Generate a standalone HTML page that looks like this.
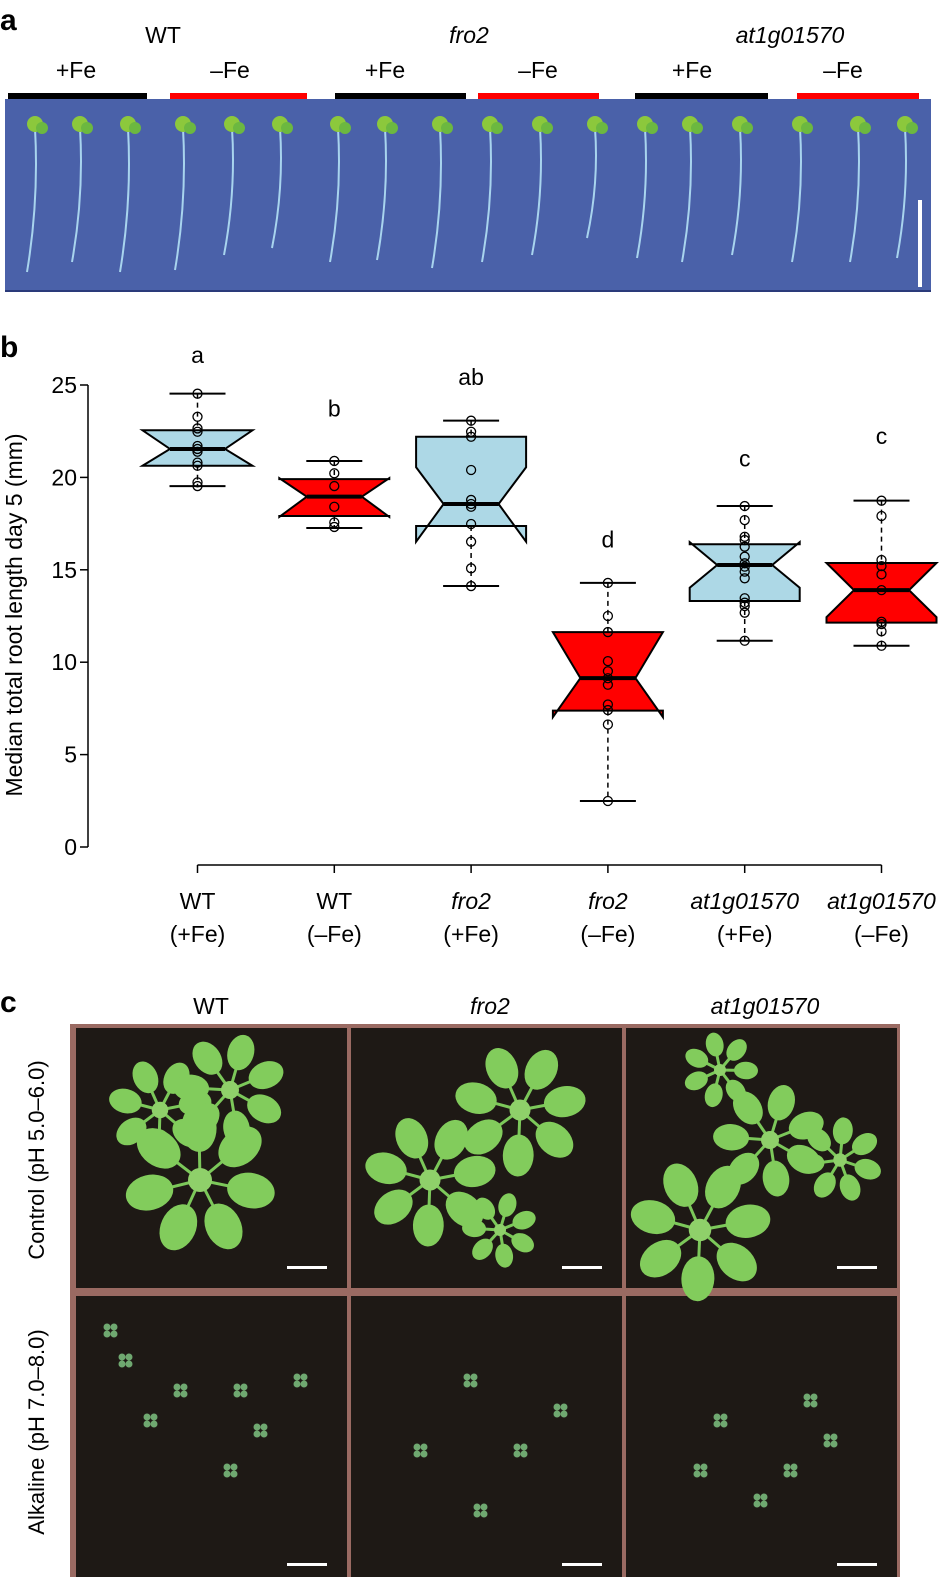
<!DOCTYPE html>
<html><head><meta charset="utf-8"><style>
html,body{margin:0;padding:0;background:#fff;}
svg{display:block;font-family:"Liberation Sans",Arial,sans-serif;}
</style></head><body>
<svg id="fig" width="946" height="1577" viewBox="0 0 946 1577" xmlns="http://www.w3.org/2000/svg">
<!-- Panel a -->
<text x="0" y="30" font-size="30" font-weight="bold">a</text>
<g font-size="23" text-anchor="middle">
<text x="163" y="43">WT</text>
<text x="469" y="43" font-style="italic">fro2</text>
<text x="790" y="43" font-style="italic">at1g01570</text>
<text x="76" y="78">+Fe</text><text x="230" y="78">–Fe</text>
<text x="385" y="78">+Fe</text><text x="538" y="78">–Fe</text>
<text x="692" y="78">+Fe</text><text x="843" y="78">–Fe</text>
</g>
<g>
<rect x="8" y="93" width="139" height="6" fill="#000"/><rect x="170" y="93" width="137" height="6" fill="#f00"/>
<rect x="335" y="93" width="131" height="6" fill="#000"/><rect x="478" y="93" width="121" height="6" fill="#f00"/>
<rect x="635" y="93" width="133" height="6" fill="#000"/><rect x="797" y="93" width="122" height="6" fill="#f00"/>
</g>
<rect x="5" y="99" width="926" height="193" fill="#4a61a9"/>
<rect x="5" y="290" width="926" height="2" fill="#2a3a7a"/>
<g id="seedlings"></g>
<rect x="918" y="200" width="4" height="87" fill="#fff"/>

<!-- Panel b -->
<text x="0" y="357" font-size="30" font-weight="bold">b</text>
<text transform="translate(22,615) rotate(-90)" font-size="23" text-anchor="middle">Median total root length day 5 (mm)</text>
<g id="chart"></g>

<!-- Panel c -->
<text x="0" y="1012" font-size="30" font-weight="bold">c</text>
<g font-size="23" text-anchor="middle">
<text x="211" y="1014">WT</text>
<text x="490" y="1014" font-style="italic">fro2</text>
<text x="765" y="1014" font-style="italic">at1g01570</text>
</g>
<text transform="translate(44,1160) rotate(-90)" font-size="22" text-anchor="middle">Control (pH 5.0–6.0)</text>
<text transform="translate(44,1432) rotate(-90)" font-size="22" text-anchor="middle">Alkaline (pH 7.0–8.0)</text>
<g id="pots"></g>
</svg>
<script>
const NS="http://www.w3.org/2000/svg";
function mk(tag,attrs,parent){const e=document.createElementNS(NS,tag);for(const k in attrs)e.setAttribute(k,attrs[k]);parent.appendChild(e);return e;}

// ---- chart data ----
const categories=["WT|(+Fe)","WT|(–Fe)","fro2|(+Fe)","fro2|(–Fe)","at1g01570|(+Fe)","at1g01570|(–Fe)"];
const italicCat=[false,false,true,true,true,true];
const fills=["#add8e6","#ff0000","#add8e6","#ff0000","#add8e6","#ff0000"];
const whiskerLo=[19.53,17.26,14.12,2.49,11.16,10.89];
const q1=[20.63,17.91,17.37,7.38,13.31,12.14];
const medians=[21.54,18.96,18.56,9.14,15.26,13.9];
const q3=[22.55,19.91,22.2,11.63,16.38,15.37];
const whiskerHi=[24.53,20.89,23.07,14.29,18.45,18.74];
const notchLo=[20.63,17.86,16.52,7.03,14.03,12.44];
const notchHi=[22.55,19.96,20.55,11.63,16.5,15.37];
const sigLetters=["a","b","ab","d","c","c"];
const letterY=[26.2,23.3,25.0,16.2,20.6,21.8];
const points=[
 [24.53,23.28,22.65,22.47,21.7,21.54,21.39,20.8,20.63,19.73,19.53],
 [20.89,20.22,19.53,18.41,17.56,17.32],
 [23.07,22.47,22.2,20.4,18.78,18.56,18.41,17.48,16.52,15.08,14.12],
 [14.29,12.5,11.63,10.06,9.51,9.13,8.78,7.71,7.41,6.63,2.49],
 [18.45,17.69,16.79,16.61,16.25,15.71,15.35,15.17,14.9,14.54,13.46,13.22,13.04,12.68,11.16],
 [18.74,17.91,15.53,15.2,14.75,13.9,12.19,12.06,11.67,10.89]
];
const yTicks=[0,5,10,15,20,25];

const Y0=847,PXU=18.48;
function ys(v){return Y0-v*PXU;}
function xs(i){return 197.5+i*136.8;}
const g=document.getElementById('chart');
let ax=mk('line',{x1:88,y1:ys(0),x2:88,y2:ys(25),stroke:'#000','stroke-width':1.5},g);


yTicks.forEach(t=>{
  mk('line',{x1:80,y1:ys(t),x2:88,y2:ys(t),stroke:'#000','stroke-width':1.5},g);
  const tx=mk('text',{x:77,y:ys(t)+8,'font-size':23,'text-anchor':'end'},g);tx.textContent=t;
  
  
});
let xa=mk('line',{x1:xs(0),y1:865,x2:xs(5),y2:865,stroke:'#000','stroke-width':1.5},g);


categories.forEach((c,i)=>{
  const x=xs(i);
  mk('line',{x1:x,y1:865,x2:x,y2:873,stroke:'#000','stroke-width':1.5},g);
  const [a,b]=c.split('|');
  const t1=mk('text',{x:x,y:909,'font-size':23,'text-anchor':'middle','font-style':italicCat[i]?'italic':'normal'},g);t1.textContent=a;
  
  
  const t2=mk('text',{x:x,y:942,'font-size':23,'text-anchor':'middle'},g);t2.textContent=b;
  
  
});
categories.forEach((c,i)=>{
  const x=xs(i),hw=55,nw=27.5,ww=28;
  const grp=mk('g',{},g);
  
  
  mk('line',{x1:x,y1:ys(whiskerHi[i]),x2:x,y2:ys(q3[i]),stroke:'#000','stroke-width':1.5,'stroke-dasharray':'5,4'},grp);
  mk('line',{x1:x,y1:ys(q1[i]),x2:x,y2:ys(whiskerLo[i]),stroke:'#000','stroke-width':1.5,'stroke-dasharray':'5,4'},grp);
  mk('line',{x1:x-ww,y1:ys(whiskerHi[i]),x2:x+ww,y2:ys(whiskerHi[i]),stroke:'#000','stroke-width':2},grp);
  mk('line',{x1:x-ww,y1:ys(whiskerLo[i]),x2:x+ww,y2:ys(whiskerLo[i]),stroke:'#000','stroke-width':2},grp);
  const xl=x-hw,xr=x+hw;
  const pts=[[xl,q1[i]],[xl,notchLo[i]],[x-nw,medians[i]],[xl,notchHi[i]],[xl,q3[i]],[xr,q3[i]],[xr,notchHi[i]],[x+nw,medians[i]],[xr,notchLo[i]],[xr,q1[i]]];
  mk('polygon',{points:pts.map(p=>p[0]+','+ys(p[1])).join(' '),fill:fills[i],stroke:'#000','stroke-width':2,'stroke-linejoin':'miter'},grp);
  mk('line',{x1:x-nw,y1:ys(medians[i]),x2:x+nw,y2:ys(medians[i]),stroke:'#000','stroke-width':4},grp);
  points[i].forEach(v=>{
    const cc=mk('circle',{cx:x,cy:ys(v),r:4.5,fill:'none',stroke:'#000','stroke-width':1.3},grp);
    
    
  });
  const lt=mk('text',{x:x,y:ys(letterY[i]),'font-size':23,'text-anchor':'middle'},g);lt.textContent=sigLetters[i];
  
  
});

// ---- seedlings (decorative) ----
const sg=document.getElementById('seedlings');
const sx=[35,80,128,183,232,280,338,385,440,490,540,595,645,690,740,800,858,905];
const sl=[272,262,272,270,255,248,262,260,268,262,255,238,258,262,255,262,262,258];
sx.forEach((x,i)=>{
  mk('path',{d:`M${x},128 Q${x+4},${(128+sl[i])/2} ${x-8},${sl[i]}`,stroke:'#a8d4ee','stroke-width':2,fill:'none'},sg);
  mk('ellipse',{cx:x,cy:124,rx:8,ry:8,fill:'#8cc83c'},sg);
  mk('ellipse',{cx:x+7,cy:128,rx:6,ry:6,fill:'#6cb840'},sg);
});

// ---- plant photos (decorative) ----
const pg=document.getElementById('pots');
mk('rect',{x:70,y:1024,width:830,height:553,fill:'#9a6a62'},pg);
const cols=[[76,347],[351,622],[626,897]];
const rows=[[1028,1288],[1296,1577]];
rows.forEach((r,ri)=>cols.forEach((c,ci)=>{
  mk('rect',{x:c[0],y:r[0],width:c[1]-c[0],height:r[1]-r[0],fill:'#1e1915'},pg);
  mk('rect',{x:c[1]-60,y:r[1]-(ri?14:22),width:40,height:3,fill:'#fff'},pg);
}));
const ros=[[200,1180,80],[160,1110,55],[230,1090,60],[430,1180,70],[520,1110,70],[500,1230,40],[700,1230,75],[770,1140,60],[840,1160,45],[720,1070,40]];
ros.forEach(([x,y,r])=>{
  for(let k=0;k<7;k++){
    const a=k*2*Math.PI/7+x*0.01;
    const lx=x+Math.cos(a)*r*0.65,ly=y+Math.sin(a)*r*0.65;
    mk('line',{x1:x,y1:y,x2:lx,y2:ly,stroke:'#7cc85a','stroke-width':3},pg);
    mk('ellipse',{cx:lx,cy:ly,rx:r*0.3,ry:r*0.22,transform:`rotate(${a*180/Math.PI} ${lx} ${ly})`,fill:'#82cc5c'},pg);
  }
  mk('circle',{cx:x,cy:y,r:r*0.15,fill:'#8fd06a'},pg);
});
const small=[[110,1330],[125,1360],[180,1390],[240,1390],[300,1380],[150,1420],[230,1470],[260,1430],[420,1450],[470,1380],[520,1450],[560,1410],[480,1510],[720,1420],[810,1400],[830,1440],[790,1470],[760,1500],[700,1470]];
small.forEach(([x,y])=>{for(let k=0;k<4;k++)mk('circle',{cx:x+(k%2)*7-3,cy:y+(k>>1)*7-3,r:3.5,fill:'#6fa870'},pg);});
</script>
</body></html>
